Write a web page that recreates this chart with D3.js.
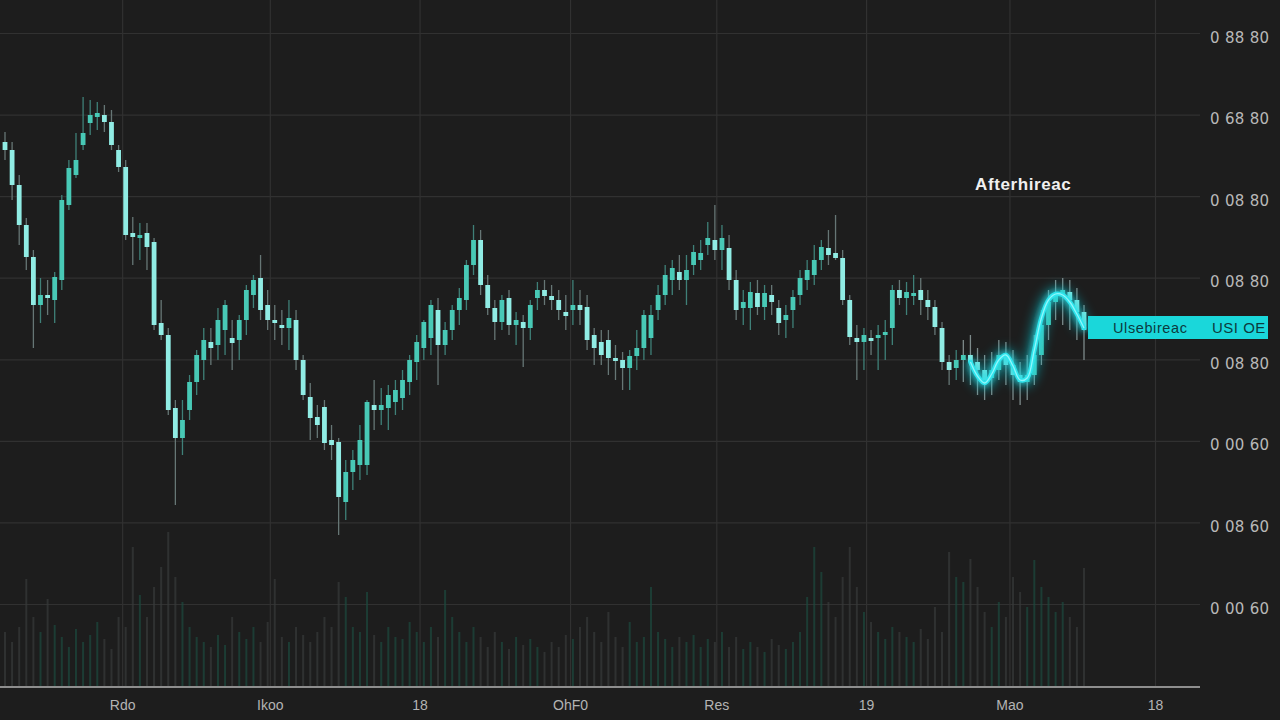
<!DOCTYPE html>
<html><head><meta charset="utf-8">
<script src="https://cdn.jsdelivr.net/npm/d3@7"></script>
<style>html,body{margin:0;padding:0;background:#1e1e1e;overflow:hidden}</style>
</head><body>
<svg id="c" width="1280" height="720"></svg>
<script>
// ---- data: [open, high, low, close] per session ----
const ohlc = [
[558,568,540,550],[550,558,500,515],[515,525,455,475],[475,482,430,443],[443,450,352,395],
[395,422,377,405],[405,420,385,402],[400,428,377,423],[420,505,410,500],[495,540,490,532],
[525,567,522,540],[555,603,550,567],[577,600,565,585],[583,598,570,587],[585,595,568,578],
[578,590,550,555],[550,555,528,533],[533,540,460,465],[467,483,435,463],[463,477,440,465],
[467,477,430,453],[458,462,370,375],[377,400,360,365],[365,372,285,290],[292,300,195,262],
[262,300,245,280],[290,325,280,318],[318,350,305,345],[340,372,320,360],[358,372,335,352],
[355,392,340,380],[370,400,345,395],[362,380,330,357],[360,385,340,380],[380,415,365,410],
[405,425,392,420],[422,445,380,390],[395,410,370,380],[380,395,360,377],[375,390,355,372],
[372,400,350,382],[380,390,330,340],[340,345,300,305],[303,317,260,282],[283,295,262,275],
[293,300,250,257],[260,275,240,255],[258,262,165,203],[198,240,180,228],[228,250,210,240],
[235,275,220,260],[235,300,225,298],[295,320,270,290],[290,312,275,295],[292,315,270,305],
[298,320,285,310],[302,330,290,320],[318,345,305,340],[338,365,320,358],[352,380,340,378],
[362,400,345,395],[390,402,315,355],[355,378,345,370],[370,395,360,390],[390,412,375,402],
[400,440,390,435],[435,475,425,460],[460,470,405,415],[415,425,385,392],[392,400,360,378],
[378,405,370,400],[402,410,365,375],[375,388,355,380],[378,385,333,372],[372,400,360,395],
[402,418,390,410],[410,420,395,404],[404,415,390,400],[400,410,380,390],[388,405,370,384],
[390,420,375,395],[395,410,375,390],[393,405,350,360],[365,372,335,352],[358,370,335,345],
[360,370,325,342],[342,355,320,340],[340,348,310,332],[332,350,310,344],[344,370,330,352],
[352,390,340,385],[362,395,345,385],[390,415,380,405],[405,435,395,425],[420,440,405,432],
[428,445,410,420],[420,445,395,430],[435,455,425,448],[440,460,430,447],[455,478,445,462],
[460,495,440,450],[450,475,430,462],[452,465,410,420],[420,430,380,390],[392,410,375,398],
[392,418,370,408],[407,420,385,393],[393,415,380,407],[405,415,385,398],[392,400,365,377],
[380,395,362,385],[390,410,372,403],[405,430,395,422],[420,440,410,430],[425,455,415,440],
[440,460,430,453],[452,470,435,445],[447,485,440,442],[442,450,395,400],[400,405,355,363],
[362,375,320,358],[358,372,330,365],[362,370,345,360],[362,375,330,365],[365,380,340,368],
[372,415,355,410],[410,420,395,402],[402,418,385,408],[405,425,395,407],[410,422,385,400],
[400,410,380,393],[393,400,365,373],[372,378,330,338],[338,345,315,330],[332,350,320,340],
[340,360,318,345],[345,365,315,338],[338,352,305,330],[330,345,300,320],[322,348,305,330],
[330,360,320,345],[345,358,315,335],[335,350,300,325],[325,338,295,318],[318,345,300,325],
[325,365,315,345],[345,390,335,375],[375,410,360,398],[398,420,380,405],[405,422,375,410],
[408,420,370,400],[400,412,360,388],[388,395,340,370]
];
const volumes = [
55,45,60,108,70,55,88,62,50,40, 58,45,52,65,48,38,70,60,140,92,
70,100,120,155,110,85,60,50,45,40, 52,42,70,55,48,60,45,65,108,50,
45,60,52,45,55,70,60,105,90,60, 55,95,52,45,60,50,48,65,55,45,
60,50,97,70,55,45,60,50,40,55, 45,38,50,42,48,40,35,45,40,52,
48,60,70,55,45,75,50,40,65,45, 50,100,55,48,40,50,45,52,40,48,
45,55,40,50,38,45,40,35,48,42, 38,45,55,90,140,115,85,70,110,140,
100,75,65,55,48,60,55,50,45,58, 48,80,55,135,110,105,128,100,75,60,
85,70,110,95,80,127,100,90,75,85, 70,60,119
];
const glowStart = 136;
const glowValues = [338,324,317,326,340,345,334,320,322,350,382,400,406,405,398,386,372];
const priceTickLabels = ["0 00 60","0 08 60","0 00 60","0 08 80","0 08 80","0 08 80","0 68 80","0 88 80"];
const timeTickLabels = ["Rdo","Ikoo","18","OhF0","Res","19","Mao","18"];
const timeTickIndex = [16.5, 37.3, 58.4, 79.6, 100.2, 121.3, 141.5, 162];
const annotationText = "Afterhireac";
const tagLabel = "Ulsebireac";
const tagValue = "USI OE";

// ---- drawing ----
const W = 1280, H = 720;
const svg = d3.select("#c");
svg.append("rect").attr("width", W).attr("height", H).attr("fill", "#1d1d1d");

const defs = svg.append("defs");
const f1 = defs.append("filter").attr("id", "glow").attr("x", "-50%").attr("y", "-50%").attr("width", "200%").attr("height", "200%");
f1.append("feGaussianBlur").attr("stdDeviation", 3).attr("result", "b");
const m = f1.append("feMerge");
m.append("feMergeNode").attr("in", "b");
m.append("feMergeNode").attr("in", "SourceGraphic");
const f2 = defs.append("filter").attr("id", "blur8").attr("x", "-50%").attr("y", "-50%").attr("width", "200%").attr("height", "200%");
f2.append("feGaussianBlur").attr("stdDeviation", 6);

const x = d3.scaleLinear().domain([0, 152]).range([5, 1084]);
const y = d3.scaleLinear().domain([96, 667]).range([604, 33]);
const vy = d3.scaleLinear().domain([0, 160]).range([687, 527]);
const priceTicks = d3.range(priceTickLabels.length).map(i => 96 + i * (667 - 96) / (priceTickLabels.length - 1));

// horizontal grid
svg.append("g")
  .call(d3.axisRight(y).tickValues(priceTicks).tickSize(1200).tickFormat(""))
  .call(g => g.select(".domain").remove())
  .call(g => g.selectAll("line").attr("stroke", "#313131").attr("stroke-width", 1.2));

// vertical grid
svg.append("g")
  .call(d3.axisBottom(x).tickValues(timeTickIndex).tickSize(687).tickFormat(""))
  .call(g => g.select(".domain").remove())
  .call(g => g.selectAll("line").attr("stroke", "#313131").attr("stroke-width", 1.2));

// volume
svg.append("g").selectAll("rect").data(volumes).join("rect")
  .attr("x", (d, i) => x(i) - 1)
  .attr("width", 2)
  .attr("y", d => vy(d))
  .attr("height", d => 687 - vy(d))
  .attr("fill", (d, i) => ohlc[i][3] >= ohlc[i][0] ? "#1d4a3f" : "#383a3a")
  .attr("opacity", 0.7);

// baseline + time labels
svg.append("line").attr("x1", 0).attr("x2", 1200).attr("y1", 687).attr("y2", 687)
  .attr("stroke", "#8e8e8e").attr("stroke-width", 2);
svg.append("g").attr("transform", "translate(0,687)")
  .call(d3.axisBottom(x).tickValues(timeTickIndex).tickSize(0).tickPadding(13).tickFormat((d, i) => timeTickLabels[i]))
  .call(g => g.select(".domain").remove())
  .call(g => g.selectAll("text").attr("fill", "#b4b4b4").attr("font-size", 14).attr("font-family", "Liberation Sans, Arial, sans-serif"));

// price labels
svg.append("g").attr("transform", "translate(1210,0)")
  .call(d3.axisRight(y).tickValues(priceTicks).tickSize(0).tickPadding(0).tickFormat((d, i) => priceTickLabels[i]))
  .call(g => g.select(".domain").remove())
  .call(g => g.selectAll("text").attr("fill", "#b8b8b8").attr("font-size", 15).attr("dy", "0.6em")
    .attr("font-family", "DejaVu Sans, sans-serif").attr("letter-spacing", "0.3px"));

// candles
const cg = svg.append("g");
cg.selectAll("line").data(ohlc).join("line")
  .attr("x1", (d, i) => x(i)).attr("x2", (d, i) => x(i))
  .attr("y1", d => y(d[1])).attr("y2", d => y(d[2]))
  .attr("stroke", (d, i) => i >= glowStart - 1 ? "#7d8a8a" : (d[3] >= d[0] ? "#3f8078" : "#667675"))
  .attr("stroke-width", 1.3);
cg.selectAll("rect").data(ohlc).join("rect")
  .attr("x", (d, i) => x(i) - 2.4)
  .attr("width", 4.8)
  .attr("y", d => y(Math.max(d[0], d[3])))
  .attr("height", d => Math.max(3, Math.abs(y(d[0]) - y(d[3]))))
  .attr("fill", d => d[3] >= d[0] ? "#48c9b6" : "#90ece4");

// glow line
const gpts = glowValues.map((v, i) => [x(glowStart + i), y(v)]);
const line = d3.line().curve(d3.curveCatmullRom.alpha(0.5));
svg.append("path").attr("d", line(gpts)).attr("fill", "none")
  .attr("stroke", "#10c8d4").attr("stroke-width", 14).attr("opacity", 0.55).attr("filter", "url(#blur8)");
svg.append("path").attr("d", line(gpts)).attr("fill", "none")
  .attr("stroke", "#2ee4ec").attr("stroke-width", 4.5).attr("stroke-linecap", "round").attr("filter", "url(#glow)");
svg.append("path").attr("d", line(gpts)).attr("fill", "none")
  .attr("stroke", "#a8fbff").attr("stroke-width", 1.3).attr("opacity", 0.8);

// tag box
const lastV = glowValues[glowValues.length - 1];
const tag = svg.append("g");
tag.append("rect").attr("x", 1088).attr("y", y(lastV) - 12).attr("width", 180).attr("height", 23)
  .attr("fill", "#1ad7da");
tag.append("text").attr("x", 1113).attr("y", y(lastV) + 5).text(tagLabel)
  .attr("fill", "#0c3b3e").attr("font-size", 14.5).attr("letter-spacing", "0.6px")
  .attr("font-family", "Liberation Sans, Arial, sans-serif");
tag.append("text").attr("x", 1212).attr("y", y(lastV) + 5).text(tagValue)
  .attr("fill", "#0c3b3e").attr("font-size", 15).attr("letter-spacing", "0.5px")
  .attr("font-family", "Liberation Sans, Arial, sans-serif");

// annotation
svg.append("text").attr("x", 975).attr("y", 190).text(annotationText)
  .attr("fill", "#f0f0f0").attr("font-size", 17).attr("font-weight", "bold").attr("letter-spacing", "0.6px")
  .attr("font-family", "Liberation Sans, Arial, sans-serif");
</script>
</body></html>
